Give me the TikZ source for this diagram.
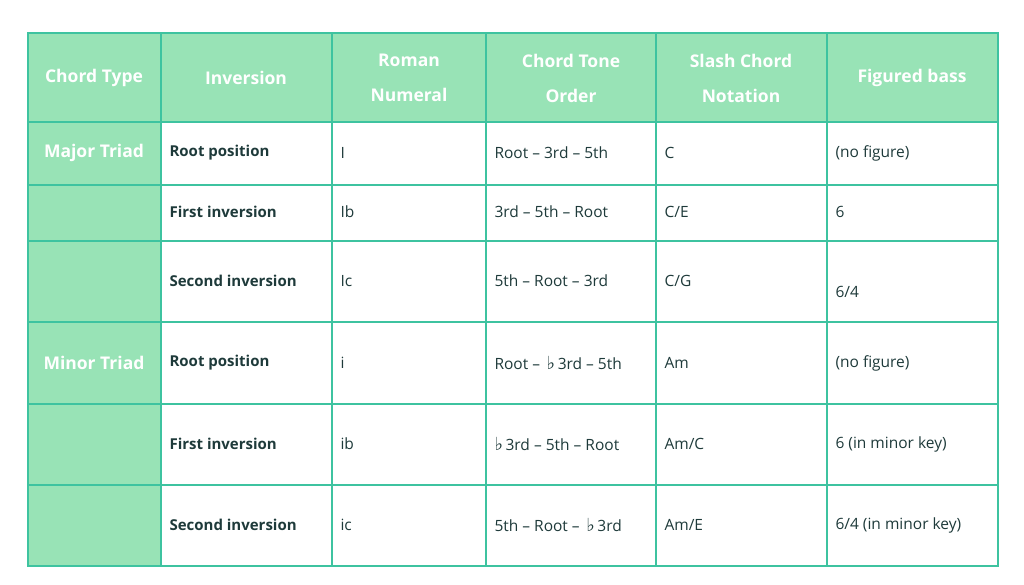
\documentclass[tikz,border=0pt]{standalone}
\usepackage{fontspec}
\setmainfont{Open Sans}
\newfontfamily\symfont{DejaVu Sans}
\definecolor{hdrgreen}{HTML}{98E3B6}
\definecolor{rulegreen}{HTML}{3EC3A0}
\definecolor{bodytext}{HTML}{1E3A3A}
\newcommand{\flatsym}{{\symfont\fontsize{18}{18}\selectfont\char"266D}\,}
\begin{document}
\begin{tikzpicture}[x=1pt,y=-1pt,
                    hdr/.style={text=white, font=\fontsize{17.5}{35}\selectfont\bfseries, align=center},
                    typ/.style={text=white, font=\fontsize{17.5}{20}\selectfont\bfseries},
                    inv/.style={text=bodytext, font=\fontsize{15}{18}\selectfont\bfseries, anchor=west},
                    txt/.style={text=bodytext, font=\fontsize{15.5}{18}\selectfont, anchor=west}]
                    \useasboundingbox (0,0) rectangle (1024,585);
                    \fill[hdrgreen] (28,33) rectangle (998,122);
                    \fill[hdrgreen] (28,122) rectangle (161,566);
                    \draw[rulegreen, line width=2pt] (28,33) rectangle (998,566);
                    \foreach \x in {161,332,486,656,827}
                        \draw[rulegreen, line width=2pt] (\x,33) -- (\x,566);
                    \foreach \y in {122,185,241,322,404,485}
                        \draw[rulegreen, line width=2pt] (28,\y) -- (998,\y);
                    % header
                    \node[hdr] (h1) at (94,78) {Chord Type};
                    \node[hdr] (h2) at (246,78) {Inversion};
                    \node[hdr] (h3) at (409,78) {Roman\\Numeral};
                    \node[hdr] (h4) at (571,78) {Chord Tone\\Order};
                    \node[hdr] (h5) at (741,78) {Slash Chord\\Notation};
                    \node[hdr] (h6) at (912,78) {Figured bass};
                    % chord types
                    \node[typ] (maj) at (94,153) {Major Triad};
                    \node[typ] (min) at (94,363) {Minor Triad};
                    % inversions
                    \node[inv] (i1) at (166,153) {Root position};
                    \node[inv] (i2) at (166,212) {First inversion};
                    \node[inv] (i3) at (166,281) {Second inversion};
                    \node[inv] (i4) at (166,363) {Root position};
                    \node[inv] (i5) at (166,444) {First inversion};
                    \node[inv] (i6) at (166,525) {Second inversion};
                    % roman numerals
                    \node[txt] (r1) at (337,153) {I};
                    \node[txt] (r2) at (337,212) {Ib};
                    \node[txt] (r3) at (337,281) {Ic};
                    \node[txt] (r4) at (337,363) {i};
                    \node[txt] (r5) at (337,444) {ib};
                    \node[txt] (r6) at (337,525) {ic};
                    % tone order
                    \node[txt] (o1) at (491,153) {Root – 3rd – 5th};
                    \node[txt] (o2) at (491,212) {3rd – 5th – Root};
                    \node[txt] (o3) at (491,281) {5th – Root – 3rd};
                    \node[txt] (o4) at (491,363) {Root – \,\flatsym3rd – 5th};
                    \node[txt] (o5) at (491,444) {\flatsym3rd – 5th – Root};
                    \node[txt] (o6) at (491,525) {5th – Root – \,\flatsym3rd};
                    % slash chords
                    \node[txt] (s1) at (661,153) {C};
                    \node[txt] (s2) at (661,212) {C/E};
                    \node[txt] (s3) at (661,281) {C/G};
                    \node[txt] (s4) at (661,363) {Am};
                    \node[txt] (s5) at (661,444) {Am/C};
                    \node[txt] (s6) at (661,525) {Am/E};
                    % figured bass
                    \node[txt] (f1) at (832,153) {(no figure)};
                    \node[txt] (f2) at (832,212) {6};
                    \node[txt] (f3) at (832,292) {6/4};
                    \node[txt] (f4) at (832,363) {(no figure)};
                    \node[txt] (f5) at (832,444) {6 (in minor key)};
                    \node[txt] (f6) at (832,525) {6/4 (in minor key)};
                \end{tikzpicture}
\end{document}
